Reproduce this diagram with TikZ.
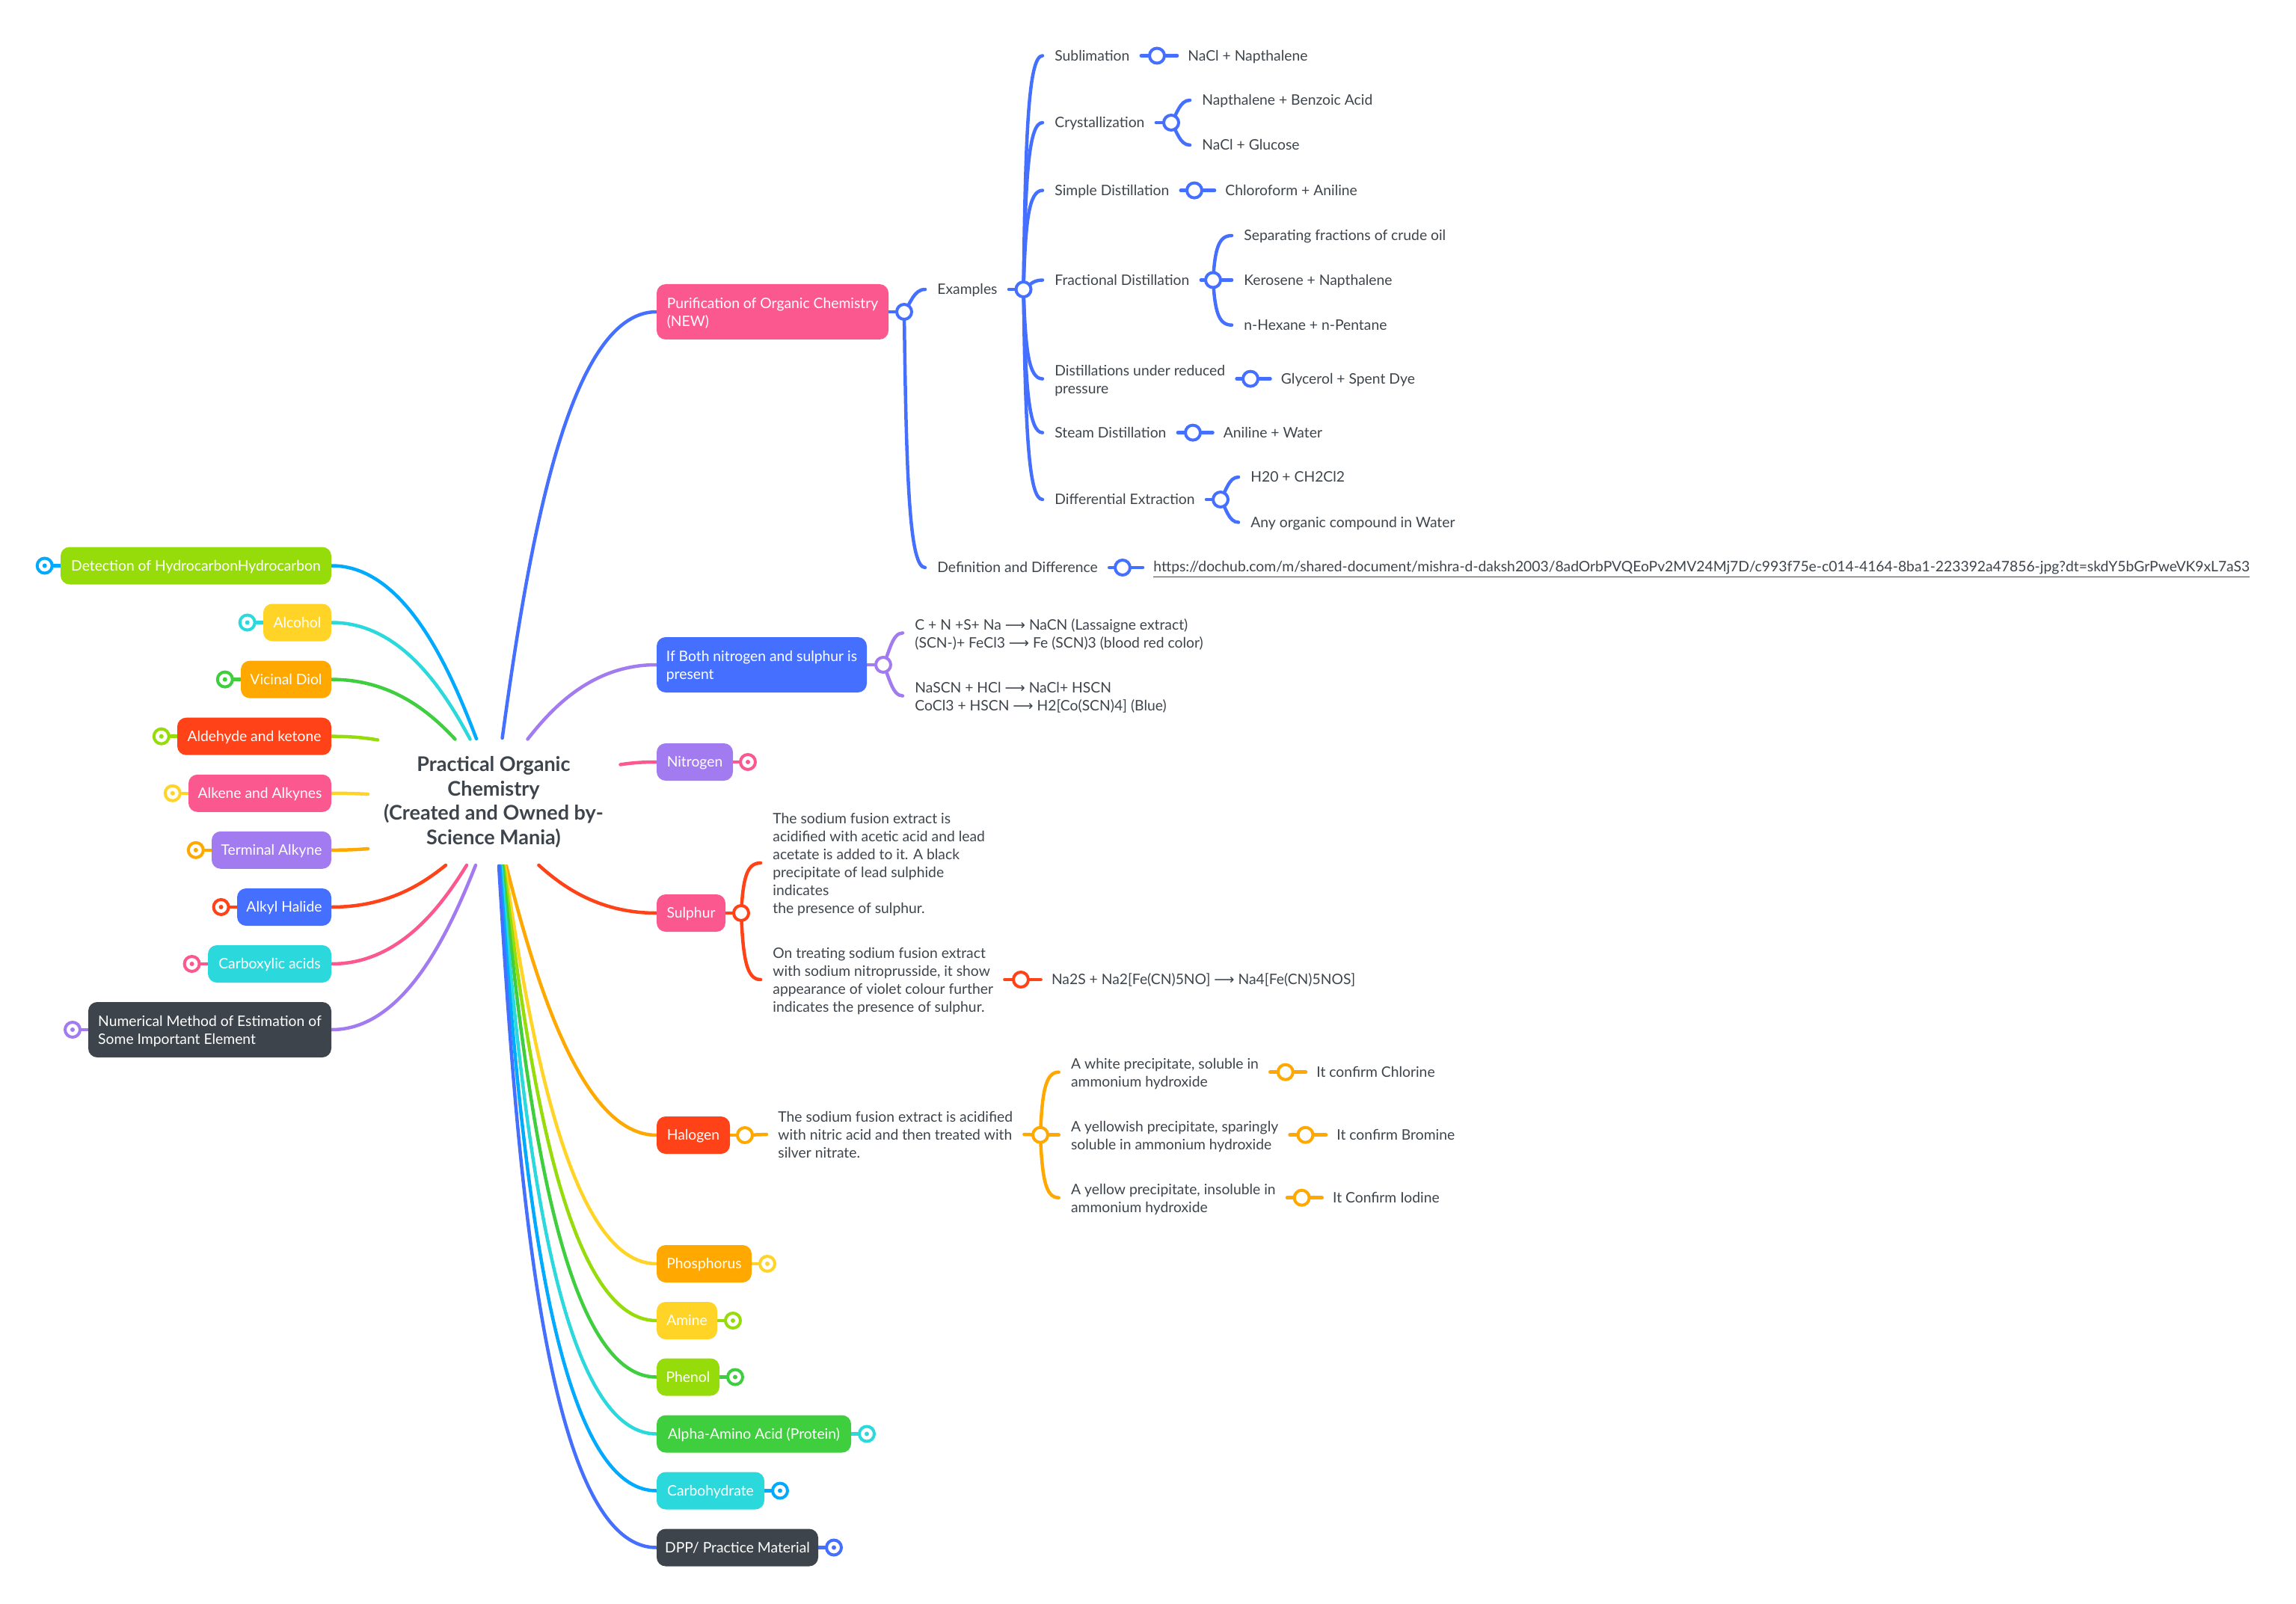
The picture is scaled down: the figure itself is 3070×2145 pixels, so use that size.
\documentclass[tikz,border=0pt]{standalone}
\usepackage{fontspec}
\setmainfont{Lato}
\newfontfamily\arrowf{DejaVu Sans}
\usetikzlibrary{calc}
\pgfdeclarelayer{bg}
\pgfsetlayers{bg,main}
\definecolor{cBlue}{HTML}{4570FF}
\definecolor{cPink}{HTML}{FC5890}
\definecolor{cPurple}{HTML}{A27BF0}
\definecolor{cLime}{HTML}{96DC0A}
\definecolor{cYellow}{HTML}{FFD426}
\definecolor{cOrange}{HTML}{FFA800}
\definecolor{cRed}{HTML}{FF4217}
\definecolor{cGreen}{HTML}{3ECE3E}
\definecolor{cCyan}{HTML}{2BD9DC}
\definecolor{cSky}{HTML}{00AAFF}
\definecolor{cDark}{HTML}{3D444B}
\newcommand{\lar}{{\arrowf\fontsize{9.5}{12}\selectfont ⟶}}
\newcommand{\lstrut}{\leavevmode\vrule width 0pt height 9.4pt depth 2.6pt\relax}
\newcommand{\mlfix}{\vrule width 0pt height 10.4pt depth 0pt\relax}
\newcommand{\rstrut}{\leavevmode\vrule width 0pt height 16.4pt depth 3.35pt\relax}
\tikzset{
  x=0.5pt,y=-0.5pt,
  topicbox/.style={rounded corners=6pt,inner sep=0pt,align=left,text=white,font=\fontsize{9.65}{12}\selectfont,
    execute at begin node=\lstrut,execute at end node=\lstrut},
  leaftext/.style={inner sep=0pt,anchor=west,align=left,text=cDark,font=\fontsize{9.65}{12}\selectfont,
    execute at begin node=\lstrut,execute at end node=\lstrut},
  roottext/.style={inner sep=0pt,align=center,text=cDark,font=\fontsize{13.5}{16.25}\selectfont\bfseries,
    execute at begin node=\rstrut,execute at end node=\rstrut},
  ringnode/.style={circle,inner sep=0pt,minimum size=10pt,fill=white,line width=2pt},
  link/.style={line width=2.25pt,line cap=round}
}
% name, left, right, y centre, height, colour, text
\newcommand{\tbox}[7]{\pgfmathsetmacro\boxw{(#3-#2)*0.5}\pgfmathsetmacro\boxh{#5*0.5}%
  \node[topicbox,fill=#6,minimum width=\boxw pt,minimum height=\boxh pt] (#1) at ({(#2+#3)/2},#4) {#7};}
\newcommand{\tx}[4]{\node[leaftext] (#1) at (#2,#3) {#4};}
\newcommand{\ring}[4]{\node[ringnode,draw=#4] (#1) at (#2,#3) {};}
\newcommand{\dring}[4]{\node[ringnode,draw=#4] (#1) at (#2,#3) {};\fill[#4] (#1.center) circle[radius=3];}
% colour, from, to
\newcommand{\mainlink}[3]{\draw[link,#1] let \p1=(#2),\p2=(#3),\n1={min(max(abs(\y2-\y1)/abs(\x2-\x1)-1.8,0)/2.5,1)} in
  (#2) .. controls ({\x1+(0.19-0.08*\n1)*(\x2-\x1)},{\y1+0.42*(\y2-\y1)}) and ({\x2-(0.5+0.225*\n1)*(\x2-\x1)},\y2) .. (#3);}
% colour, ring, child text
\newcommand{\br}[3]{\draw[link,#1] let \p1=(#2.center),\p2=($(#3.west)+(-16,0)$),\n1={abs(\y2-\y1)/abs(\x2-\x1)<1.7?1:0} in
  (\p1) .. controls ({\x1+(0.1+0.2*\n1)*(\x2-\x1)},{\y1+(0.68-0.33*\n1)*(\y2-\y1)}) and ({\x1+(0.27+0.18*\n1)*(\x2-\x1)},\y2) .. (\p2);}
% colour, parent, offset, ring
\newcommand{\stub}[4]{\draw[link,#1] ($(#2.east)+(#3,0)$) -- (#4.center);}
\newcommand{\stubl}[3]{\draw[link,#1] (#2.west) -- (#3.center);}
\begin{document}
\begin{tikzpicture}
\useasboundingbox (0,0) rectangle (3070,2145);
\node[roottext] (root) at (660,1074) {Practical Organic\\Chemistry\\(Created and Owned by-\\Science Mania)};
% root connector ends
\coordinate (eDet) at (637,988);
\coordinate (eAlc) at (628.6,988.5);
\coordinate (eVic) at (608.5,988.5);
\coordinate (eAld) at (505,989.5);
\coordinate (eAlk) at (492,1062);
\coordinate (eTer) at (492,1135);
\coordinate (eHal) at (596,1157);
\coordinate (eCar) at (624,1157);
\coordinate (eNum) at (636,1157);
\coordinate (ePur) at (671.6,987);
\coordinate (eIfb) at (705.5,988.5);
\coordinate (eNit) at (829.5,1022.5);
\coordinate (eSul) at (720.4,1157);
\coordinate (eHlg) at (677,1158);
\coordinate (ePho) at (675,1158);
\coordinate (eAmi) at (673.5,1158);
\coordinate (ePhe) at (672,1158);
\coordinate (eAlp) at (670,1158);
\coordinate (eCrb) at (668.5,1158);
\coordinate (eDpp) at (667,1158);
% left topics
\tbox{nDet}{81}{443}{756.5}{50}{cLime}{Detection of HydrocarbonHydrocarbon}
\tbox{nAlc}{352}{443}{832.5}{50}{cYellow}{Alcohol}
\tbox{nVic}{322}{443}{908.6}{50}{cOrange}{Vicinal Diol}
\tbox{nAld}{237}{443}{984.7}{50}{cRed}{Aldehyde and ketone}
\tbox{nAlk}{252}{443}{1060.8}{50}{cPink}{Alkene and Alkynes}
\tbox{nTer}{283}{443}{1136.8}{50}{cPurple}{Terminal Alkyne}
\tbox{nHal}{317}{443}{1213}{50}{cBlue}{Alkyl Halide}
\tbox{nCar}{278}{443}{1289}{50}{cCyan}{Carboxylic acids}
\tbox{nNum}{118}{443}{1377}{74}{cDark}{\mlfix Numerical Method of Estimation of\\Some Important Element}
\dring{rDet}{59.7}{756.5}{cSky}
\dring{rAlc}{330.7}{832.5}{cCyan}
\dring{rVic}{300.8}{908.6}{cGreen}
\dring{rAld}{215.8}{984.7}{cLime}
\dring{rAlk}{230.8}{1060.8}{cYellow}
\dring{rTer}{261.8}{1136.8}{cOrange}
\dring{rHal}{295.6}{1213}{cRed}
\dring{rCar}{256.6}{1289}{cPink}
\dring{rNum}{97}{1377}{cPurple}
% right topics
\tbox{nPur}{878}{1188}{417}{74}{cPink}{\mlfix Purification of Organic Chemistry\\(NEW)}
\tbox{nIfb}{878}{1159}{889}{74}{cBlue}{\mlfix If Both nitrogen and sulphur is\\present}
\tbox{nNit}{878}{980}{1019}{50}{cPurple}{Nitrogen}
\tbox{nSul}{878}{970}{1221}{50}{cPink}{Sulphur}
\tbox{nHlg}{878}{976}{1518}{50}{cRed}{Halogen}
\tbox{nPho}{878}{1005}{1690}{50}{cOrange}{Phosphorus}
\tbox{nAmi}{878}{959}{1766}{50}{cYellow}{Amine}
\tbox{nPhe}{878}{962}{1841.5}{50}{cLime}{Phenol}
\tbox{nAlp}{878}{1138}{1917.5}{50}{cGreen}{Alpha-Amino Acid (Protein)}
\tbox{nCrb}{878}{1022}{1993.5}{50}{cCyan}{Carbohydrate}
\tbox{nDpp}{878}{1094}{2069.5}{50}{cDark}{DPP/ Practice Material}
\dring{rNit}{1000}{1019}{cPink}
\dring{rPho}{1026}{1690}{cYellow}
\dring{rAmi}{980}{1766}{cLime}
\dring{rPhe}{983}{1841.5}{cGreen}
\dring{rAlp}{1159}{1917.5}{cCyan}
\dring{rCrb}{1043}{1993.5}{cSky}
\dring{rDpp}{1115}{2069.5}{cBlue}
% purification subtree
\ring{rPur}{1209}{417}{cBlue}
\tx{tExa}{1253}{387}{Examples}
\tx{tDef}{1253}{759}{Definition and Difference}
\ring{rExa}{1368.5}{387}{cBlue}
\tx{tSub}{1410}{74.5}{Sublimation}
\tx{tCry}{1410}{164}{Crystallization}
\tx{tSim}{1410}{254.6}{Simple Distillation}
\tx{tFra}{1410}{374.5}{Fractional Distillation}
\tx{tDis}{1410}{506.6}{\mlfix Distillations under reduced\\pressure}
\tx{tSte}{1410}{578.6}{Steam Distillation}
\tx{tDif}{1410}{668}{Differential Extraction}
\ring{rSub}{1547}{74.5}{cBlue}
\tx{tNap}{1588}{74.5}{NaCl + Napthalene}
\ring{rCry}{1566}{164}{cBlue}
\tx{tBen}{1607}{134}{Napthalene + Benzoic Acid}
\tx{tGlu}{1607}{194}{NaCl + Glucose}
\ring{rSim}{1597}{254.6}{cBlue}
\tx{tChl}{1638}{254.6}{Chloroform + Aniline}
\ring{rFra}{1622}{374.5}{cBlue}
\tx{tSep}{1663}{315}{Separating fractions of crude oil}
\tx{tKer}{1663}{374.5}{Kerosene + Napthalene}
\tx{tHex}{1663}{434.7}{n-Hexane + n-Pentane}
\ring{rDis}{1672}{506.6}{cBlue}
\tx{tGly}{1712.5}{506.6}{Glycerol + Spent Dye}
\ring{rSte}{1595}{578.6}{cBlue}
\tx{tAni}{1635.5}{578.6}{Aniline + Water}
\ring{rDif}{1632}{668}{cBlue}
\tx{tHtw}{1672}{638}{H20 + CH2Cl2}
\tx{tAny}{1672}{698.5}{Any organic compound in Water}
\ring{rDef}{1501}{759}{cBlue}
\tx{tUrl}{1542}{759}{\underline{https://dochub.com/m/shared-document/mishra-d-daksh2003/8adOrbPVQEoPv2MV24Mj7D/c993f75e-c014-4164-8ba1-223392a47856-jpg?dt=skdY5bGrPweVK9xL7aS3}}
% if both subtree
\ring{rIfb}{1181}{889}{cPurple}
\tx{tLas}{1223}{846.4}{\mlfix C + N +S+ Na \lar{} NaCN (Lassaigne extract)\\(SCN-)+ FeCl3 \lar{} Fe (SCN)3 (blood red color)}
\tx{tCoc}{1223}{930.6}{\mlfix NaSCN + HCl \lar{} NaCl+ HSCN\\CoCl3 + HSCN \lar{} H2[Co(SCN)4] (Blue)}
% sulphur subtree
\ring{rSul}{991}{1221}{cRed}
\tx{tBla}{1033}{1154}{\mlfix The sodium fusion extract is\\acidified with acetic acid and lead\\acetate is added to it. A black\\precipitate of lead sulphide\\indicates\\the presence of sulphur.}
\tx{tVio}{1033}{1310}{\mlfix On treating sodium fusion extract\\with sodium nitroprusside, it show\\appearance of violet colour further\\indicates the presence of sulphur.}
\ring{rVio}{1365}{1310}{cRed}
\tx{tFeq}{1405.6}{1310}{Na2S + Na2[Fe(CN)5NO] \lar{} Na4[Fe(CN)5NOS]}
% halogen subtree
\ring{rHlg}{996}{1518}{cOrange}
\tx{tSil}{1040}{1517}{\mlfix The sodium fusion extract is acidified\\with nitric acid and then treated with\\silver nitrate.}
\ring{rSil}{1391}{1517.7}{cOrange}
\tx{tWhi}{1431.7}{1433.7}{\mlfix A white precipitate, soluble in\\ammonium hydroxide}
\tx{tYew}{1431.7}{1517.7}{\mlfix A yellowish precipitate, sparingly\\soluble in ammonium hydroxide}
\tx{tYel}{1431.7}{1601.7}{\mlfix A yellow precipitate, insoluble in\\ammonium hydroxide}
\ring{rWhi}{1718.8}{1433.7}{cOrange}
\tx{tCl}{1760}{1433.7}{It confirm Chlorine}
\ring{rYew}{1745.5}{1517.7}{cOrange}
\tx{tBr}{1787}{1517.7}{It confirm Bromine}
\ring{rYel}{1740.6}{1601.7}{cOrange}
\tx{tIo}{1781.7}{1601.7}{It Confirm Iodine}
\begin{pgfonlayer}{bg}
\mainlink{cSky}{eDet}{nDet.east}
\mainlink{cCyan}{eAlc}{nAlc.east}
\mainlink{cGreen}{eVic}{nVic.east}
\mainlink{cLime}{eAld}{nAld.east}
\mainlink{cYellow}{eAlk}{nAlk.east}
\mainlink{cOrange}{eTer}{nTer.east}
\mainlink{cRed}{eHal}{nHal.east}
\mainlink{cPink}{eCar}{nCar.east}
\mainlink{cPurple}{eNum}{nNum.east}
\mainlink{cBlue}{ePur}{nPur.west}
\mainlink{cPurple}{eIfb}{nIfb.west}
\mainlink{cPink}{eNit}{nNit.west}
\mainlink{cRed}{eSul}{nSul.west}
\mainlink{cOrange}{eHlg}{nHlg.west}
\mainlink{cYellow}{ePho}{nPho.west}
\mainlink{cLime}{eAmi}{nAmi.west}
\mainlink{cGreen}{ePhe}{nPhe.west}
\mainlink{cCyan}{eAlp}{nAlp.west}
\mainlink{cSky}{eCrb}{nCrb.west}
\mainlink{cBlue}{eDpp}{nDpp.west}
\stubl{cSky}{nDet}{rDet}
\stubl{cCyan}{nAlc}{rAlc}
\stubl{cGreen}{nVic}{rVic}
\stubl{cLime}{nAld}{rAld}
\stubl{cYellow}{nAlk}{rAlk}
\stubl{cOrange}{nTer}{rTer}
\stubl{cRed}{nHal}{rHal}
\stubl{cPink}{nCar}{rCar}
\stubl{cPurple}{nNum}{rNum}
\stub{cPink}{nNit}{0}{rNit}
\stub{cYellow}{nPho}{0}{rPho}
\stub{cLime}{nAmi}{0}{rAmi}
\stub{cGreen}{nPhe}{0}{rPhe}
\stub{cCyan}{nAlp}{0}{rAlp}
\stub{cSky}{nCrb}{0}{rCrb}
\stub{cBlue}{nDpp}{0}{rDpp}
\stub{cBlue}{nPur}{0}{rPur}
\br{cBlue}{rPur}{tExa}
\br{cBlue}{rPur}{tDef}
\stub{cBlue}{tExa}{15}{rExa}
\br{cBlue}{rExa}{tSub}
\br{cBlue}{rExa}{tCry}
\br{cBlue}{rExa}{tSim}
\br{cBlue}{rExa}{tFra}
\br{cBlue}{rExa}{tDis}
\br{cBlue}{rExa}{tSte}
\br{cBlue}{rExa}{tDif}
\stub{cBlue}{tSub}{15}{rSub}
\draw[link,cBlue] (rSub.center) -- ($(tNap.west)+(-14,0)$);
\stub{cBlue}{tCry}{15}{rCry}
\br{cBlue}{rCry}{tBen}
\br{cBlue}{rCry}{tGlu}
\stub{cBlue}{tSim}{15}{rSim}
\draw[link,cBlue] (rSim.center) -- ($(tChl.west)+(-14,0)$);
\stub{cBlue}{tFra}{15}{rFra}
\br{cBlue}{rFra}{tSep}
\br{cBlue}{rFra}{tKer}
\br{cBlue}{rFra}{tHex}
\stub{cBlue}{tDis}{15}{rDis}
\draw[link,cBlue] (rDis.center) -- ($(tGly.west)+(-14,0)$);
\stub{cBlue}{tSte}{15}{rSte}
\draw[link,cBlue] (rSte.center) -- ($(tAni.west)+(-14,0)$);
\stub{cBlue}{tDif}{15}{rDif}
\br{cBlue}{rDif}{tHtw}
\br{cBlue}{rDif}{tAny}
\stub{cBlue}{tDef}{15}{rDef}
\draw[link,cBlue] (rDef.center) -- ($(tUrl.west)+(-14,0)$);
\stub{cPurple}{nIfb}{0}{rIfb}
\br{cPurple}{rIfb}{tLas}
\br{cPurple}{rIfb}{tCoc}
\stub{cRed}{nSul}{0}{rSul}
\br{cRed}{rSul}{tBla}
\br{cRed}{rSul}{tVio}
\stub{cRed}{tVio}{15}{rVio}
\draw[link,cRed] (rVio.center) -- ($(tFeq.west)+(-14,0)$);
\stub{cOrange}{nHlg}{0}{rHlg}
\draw[link,cOrange] (rHlg.center) -- ($(tSil.west)+(-15,0)$);
\stub{cOrange}{tSil}{15}{rSil}
\br{cOrange}{rSil}{tWhi}
\br{cOrange}{rSil}{tYew}
\br{cOrange}{rSil}{tYel}
\stub{cOrange}{tWhi}{15}{rWhi}
\draw[link,cOrange] (rWhi.center) -- ($(tCl.west)+(-14,0)$);
\stub{cOrange}{tYew}{15}{rYew}
\draw[link,cOrange] (rYew.center) -- ($(tBr.west)+(-14,0)$);
\stub{cOrange}{tYel}{15}{rYel}
\draw[link,cOrange] (rYel.center) -- ($(tIo.west)+(-14,0)$);
\end{pgfonlayer}
\end{tikzpicture}
\end{document}
